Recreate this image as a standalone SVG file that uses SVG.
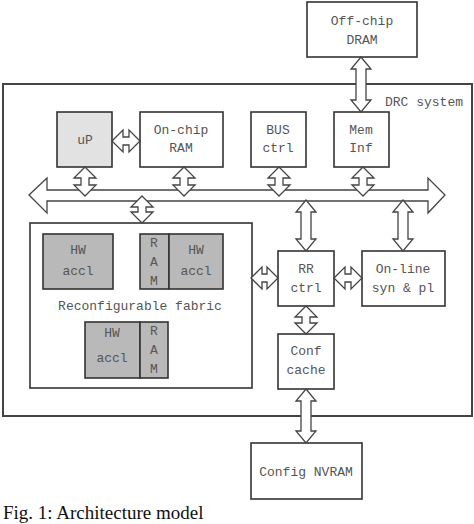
<svg xmlns="http://www.w3.org/2000/svg" width="474" height="524" viewBox="0 0 474 524">
<style>
.box{fill:#fff;stroke:#333;stroke-width:1.6}
.lg{fill:#e2e2e2;stroke:#333;stroke-width:1.6}
.dg{fill:#b9b9b9;stroke:#333;stroke-width:1.6}
.arr{fill:#fff;stroke:#444;stroke-width:1.3;stroke-linejoin:miter}
.t{font-family:"Liberation Mono","DejaVu Sans Mono",monospace;font-size:13px;fill:#555;text-anchor:middle}
.cap{font-family:"Liberation Serif","Times New Roman",serif;font-size:19px;fill:#111}
</style>
<rect width="474" height="524" fill="#fff"/>
<g id="drc-system">
<rect x="3" y="84" width="469" height="332" fill="#fff" stroke="#444" stroke-width="2"/>
<text class="t" x="424" y="106">DRC system</text>
</g>
<g id="offchip-dram"><rect class="box" x="307" y="2" width="110" height="55"/><text class="t" x="362" y="25">Off-chip</text><text class="t" x="362" y="44">DRAM</text></g>
<g id="up"><rect class="lg" x="57" y="112" width="55" height="55"/><text class="t" x="85" y="144">uP</text></g>
<g id="onchip-ram"><rect class="box" x="140" y="112" width="83" height="55"/><text class="t" x="181" y="134">On-chip</text><text class="t" x="181" y="152">RAM</text></g>
<g id="bus-ctrl"><rect class="box" x="251" y="112" width="55" height="55"/><text class="t" x="278" y="134">BUS</text><text class="t" x="278" y="152">ctrl</text></g>
<g id="mem-inf"><rect class="box" x="334" y="112" width="55" height="55"/><text class="t" x="361" y="134">Mem</text><text class="t" x="361" y="152">Inf</text></g>
<g id="fabric"><rect class="box" x="30" y="223" width="222" height="165"/><text class="t" x="140" y="310">Reconfigurable fabric</text></g>
<g id="hw-accl-1"><rect class="dg" x="43" y="234" width="70" height="55"/><text class="t" x="78" y="254">HW</text><text class="t" x="78" y="275">accl</text></g>
<g id="ram-hw-accl-2"><rect class="dg" x="140" y="234" width="29" height="55"/><rect class="dg" x="169" y="234" width="54" height="55"/><text class="t" x="154" y="247">R</text><text class="t" x="154" y="266">A</text><text class="t" x="154" y="285">M</text><text class="t" x="196" y="254">HW</text><text class="t" x="196" y="275">accl</text></g>
<g id="hw-accl-ram-3"><rect class="dg" x="85" y="322" width="55" height="56"/><rect class="dg" x="140" y="322" width="28" height="56"/><text class="t" x="112" y="337">HW</text><text class="t" x="112" y="362">accl</text><text class="t" x="154" y="335">R</text><text class="t" x="154" y="354">A</text><text class="t" x="154" y="373">M</text></g>
<g id="rr-ctrl"><rect class="box" x="278" y="251" width="56" height="55"/><text class="t" x="306" y="273">RR</text><text class="t" x="306" y="292">ctrl</text></g>
<g id="online-syn"><rect class="box" x="362" y="251" width="83" height="55"/><text class="t" x="403" y="273">On-line</text><text class="t" x="403" y="292">syn &amp; pl</text></g>
<g id="conf-cache"><rect class="box" x="278" y="334" width="56" height="55"/><text class="t" x="306" y="355">Conf</text><text class="t" x="306" y="374">cache</text></g>
<g id="config-nvram"><rect class="box" x="251" y="443" width="111" height="56"/><text class="t" x="306" y="476">Config NVRAM</text></g>
<g id="connectors">
<polygon class="arr" stroke-width="1.8" points="29,195 47,178 47,190 428,190 428,178 445,195 428,213 428,201 47,201 47,213"/>
<path class="arr" d="M85,167 L96,178 L89,178 L89,185 L96,185 L85,196 L74,185 L81,185 L81,178 L74,178 Z"/>
<path class="arr" d="M184,167 L195,178 L188,178 L188,185 L195,185 L184,196 L173,185 L180,185 L180,178 L173,178 Z"/>
<path class="arr" d="M279,167 L290,178 L283,178 L283,185 L290,185 L279,196 L268,185 L275,185 L275,178 L268,178 Z"/>
<path class="arr" d="M363,167 L374,178 L367,178 L367,185 L374,185 L363,196 L352,185 L359,185 L359,178 L352,178 Z"/>
<path class="arr" d="M142,196 L153,207 L146,207 L146,212 L153,212 L142,223 L131,212 L138,212 L138,207 L131,207 Z"/>
<path class="arr" d="M306,306 L317,317 L310,317 L310,323 L317,323 L306,334 L295,323 L302,323 L302,317 L295,317 Z"/>
<path class="arr" d="M306,200 L316,212 L311,212 L311,239 L316,239 L306,251 L296,239 L301,239 L301,212 L296,212 Z"/>
<path class="arr" d="M403,200 L413,212 L408,212 L408,239 L413,239 L403,251 L393,239 L398,239 L398,212 L393,212 Z"/>
<path class="arr" d="M361,57 L371,69 L366,69 L366,100 L371,100 L361,112 L351,100 L356,100 L356,69 L351,69 Z"/>
<path class="arr" d="M306,389 L316,401 L311,401 L311,431 L316,431 L306,443 L296,431 L301,431 L301,401 L296,401 Z"/>
<path class="arr" d="M112,141 L123,130 L123,137 L129,137 L129,130 L140,141 L129,152 L129,145 L123,145 L123,152 Z"/>
<path class="arr" d="M251,278 L262,267 L262,274 L267,274 L267,267 L278,278 L267,289 L267,282 L262,282 L262,289 Z"/>
<path class="arr" d="M334,278 L345,267 L345,274 L351,274 L351,267 L362,278 L351,289 L351,282 L345,282 L345,289 Z"/>
</g>
<text class="cap" x="3" y="519">Fig. 1: Architecture model</text>
</svg>
